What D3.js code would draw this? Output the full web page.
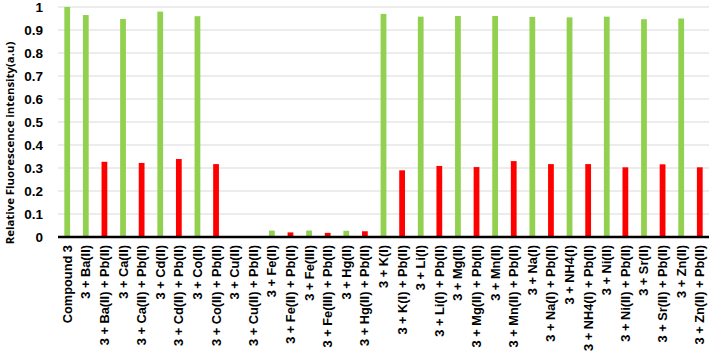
<!DOCTYPE html>
<html lang="en">
<head>
    <meta charset="UTF-8">
    <title>Relative Fluorescence</title>
    <script src="https://d3js.org/d3.v7.min.js"></script>
    <style>
        body { margin: 0; background: #fff; }
        svg { display: block; font-family: "Open Sans", "Liberation Sans", sans-serif; }
    </style>
</head>
<body>
    <svg></svg>

    <script>
        const categories = ['Compound 3',
            '3 + Ba(II)', '3 + Ba(II) + Pb(II)', '3 + Ca(II)', '3 + Ca(II) + Pb(II)',
            '3 + Cd(II)', '3 + Cd(II) + Pb(II)', '3 + Co(II)', '3 + Co(II) + Pb(II)',
            '3 + Cu(II)', '3 + Cu(II) + Pb(II)', '3 + Fe(II)', '3 + Fe(II) + Pb(II)',
            '3 + Fe(III)', '3 + Fe(III) + Pb(II)', '3 + Hg(II)', '3 + Hg(II) + Pb(II)',
            '3 + K(I)', '3 + K(I) + Pb(II)', '3 + Li(I)', '3 + Li(I) + Pb(II)',
            '3 + Mg(II)', '3 + Mg(II) + Pb(II)', '3 + Mn(II)', '3 + Mn(II) + Pb(II)',
            '3 + Na(I)', '3 + Na(I) + Pb(II)', '3 + NH4(I)', '3 + NH4(I) + Pb(II)',
            '3 + Ni(II)', '3 + Ni(II) + Pb(II)', '3 + Sr(II)', '3 + Sr(II) + Pb(II)',
            '3 + Zn(II)', '3 + Zn(II) + Pb(II)'];

        const values = [1.0,
            0.965, 0.327, 0.948, 0.322,
            0.980, 0.339, 0.960, 0.317,
            0.0, 0.003, 0.028, 0.020,
            0.028, 0.018, 0.027, 0.025,
            0.970, 0.290, 0.958, 0.309,
            0.961, 0.304, 0.961, 0.330,
            0.957, 0.317, 0.955, 0.317,
            0.958, 0.303, 0.947, 0.316,
            0.950, 0.303];

        const yTicks = [0, 0.1, 0.2, 0.3, 0.4, 0.5, 0.6, 0.7, 0.8, 0.9, 1];

        const width = 710;
        const height = 352;
        const margin = {'top': 7, 'bottom': 115, 'left': 58, 'right': 1};

        const svg = d3.select('svg')
            .attr('width', width)
            .attr('height', height)
            .attr('viewBox', [0, 0, width, height]);

        const x_scale = d3.scaleBand()
            .domain(categories)
            .range([margin.left, width - margin.right])
            .paddingInner(0.69)
            .paddingOuter(0.34);
        const y_scale = d3.scaleLinear()
            .domain([0, 1])
            .range([height - margin.bottom, margin.top]);

        // gridlines
        svg.append('g')
            .selectAll('line')
            .data(yTicks.slice(1))
            .join('line')
            .attr('x1', margin.left)
            .attr('x2', width - margin.right)
            .attr('y1', d => y_scale(d))
            .attr('y2', d => y_scale(d))
            .style('stroke', '#d9d9d9')
            .style('stroke-width', 1);

        const colorOf = (d, i) => {
            if (d === '3 + Cu(II) + Pb(II)') return '#8faadc';
            return (i === 0 || d.indexOf('Pb') < 0) ? '#92d050' : '#ff0000';
        };

        svg.append('g')
            .selectAll('rect')
            .data(categories)
            .join('rect')
            .attr('x', d => x_scale(d))
            .attr('y', (d, i) => y_scale(values[i]))
            .attr('width', x_scale.bandwidth())
            .attr('height', (d, i) => y_scale(0) - y_scale(values[i]))
            .style('fill', colorOf);

        // y axis
        const y_axis = d3.axisLeft(y_scale).tickValues(yTicks).tickSize(0).tickPadding(15)
            .tickFormat(d => d3.format('~g')(d));
        svg.append('g')
            .attr('transform', `translate(${margin.left},0)`)
            .call(y_axis)
            .call(g => g.select('.domain').remove())
            .selectAll('text')
            .style('font-size', '13.5px')
            .style('font-weight', 'bold')
            .style('fill', '#000');

        // x axis
        const x_axis = d3.axisBottom(x_scale).tickSize(0).tickPadding(0);
        svg.append('g')
            .attr('transform', `translate(0,${height - margin.bottom})`)
            .call(x_axis)
            .call(g => g.select('.domain').attr('d', `M${margin.left},0H${width - margin.right}`)
                .style('stroke', '#000').style('stroke-width', 2.5))
            .selectAll('text')
            .style('font-size', '12.8px')
            .style('font-weight', 'bold')
            .style('fill', '#000')
            .style('text-anchor', 'end')
            .attr('dy', '0.35em')
            .attr('transform', 'translate(0,8) rotate(-90)')
            .attr('x', 0)
            .attr('y', 0);

        svg.append('text')
            .attr('transform', `translate(14,143) rotate(-90)`)
            .attr('text-anchor', 'middle')
            .style('font-size', '11.4px')
            .style('font-weight', 'bold')
            .text('Relative Fluorescence intensity(a.u)');
    </script>
</body>
</html>
